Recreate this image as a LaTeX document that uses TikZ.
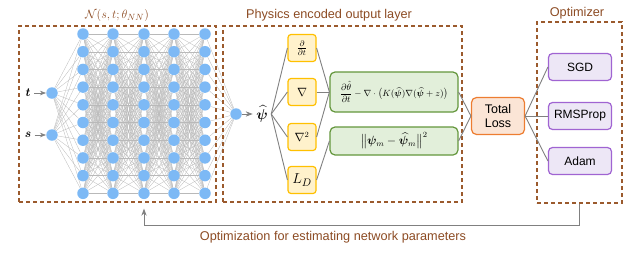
\documentclass[tikz,border=0pt]{standalone}
\usepackage{amsmath,amssymb,bm}
\usepackage[no-math]{fontspec}
\setmainfont{Liberation Sans}
\usetikzlibrary{positioning,arrows.meta,backgrounds}
\definecolor{framebrown}{RGB}{155,90,45}
\definecolor{titlebrown}{RGB}{140,75,35}
\definecolor{neuronblue}{RGB}{125,185,245}
\definecolor{opfill}{RGB}{255,242,204}
\definecolor{opdraw}{RGB}{255,192,0}
\definecolor{lossfill}{RGB}{226,239,218}
\definecolor{lossdraw}{RGB}{100,150,60}
\definecolor{totfill}{RGB}{251,229,214}
\definecolor{totdraw}{RGB}{237,125,49}
\definecolor{optfill}{RGB}{237,231,246}
\definecolor{optdraw}{RGB}{160,100,210}

\begin{document}
\begin{tikzpicture}[x=1pt,y=-1pt,>=Stealth,font=\fontsize{12}{14}\selectfont,
      neuron/.style={circle,fill=neuronblue,inner sep=0pt,minimum size=11.5pt},
      link/.style={draw=gray!55,line width=0.3pt},
      conn/.style={draw=gray,line width=0.9pt},
      frame/.style={draw=framebrown,dash pattern=on 4pt off 3pt,line width=1.3pt,inner sep=0pt},
      title/.style={text=titlebrown,font=\fontsize{12.7}{15}\selectfont},
      opbox/.style={rectangle,rounded corners=3pt,fill=opfill,draw=opdraw,line width=1.2pt,
        minimum width=28pt,minimum height=27pt,inner sep=1pt},
      lossbox/.style={rectangle,rounded corners=5pt,fill=lossfill,draw=lossdraw,line width=1.2pt,
        minimum width=128pt,inner sep=1pt},
      totbox/.style={rectangle,rounded corners=5pt,fill=totfill,draw=totdraw,line width=1.2pt,
        minimum width=53pt,minimum height=37pt,align=center,inner sep=1pt,
        font=\fontsize{12.5}{14}\selectfont},
      optbox/.style={rectangle,rounded corners=4pt,fill=optfill,draw=optdraw,line width=1.2pt,
        minimum width=63pt,minimum height=27pt,inner sep=1pt}]
      \useasboundingbox (0,0) rectangle (623,252);

      % dashed frames and their titles
      \node[frame,minimum width=197pt,minimum height=176pt] (netbox) at (117.5,114) {};
      \node[frame,minimum width=239pt,minimum height=176pt] (physbox) at (342.5,114) {};
      \node[frame,minimum width=85pt,minimum height=181pt] (optbox) at (579.5,112.5) {};
      \node[title] (nettitle) at (117,15) {$\mathcal{N}(s,t;\theta_{NN})$};
      \node[title] (phystitle) at (329,15) {Physics encoded output layer};
      \node[title] (opttitle) at (577,13) {Optimizer};

      % network
      \node[neuron] (in1) at (52,93) {};
      \node[neuron] (in2) at (52,135) {};
      \foreach \l/\x in {1/83,2/113,3/144,4/174,5/205}
        \foreach \i in {1,...,10}
          \node[neuron] (h\l-\i) at (\x,{34+(\i-1)*17.7}) {};
      \node[neuron] (out) at (236,114) {};

      \begin{scope}[on background layer]
        \foreach \i in {1,...,10} {
          \draw[link] (in1) -- (h1-\i);
          \draw[link] (in2) -- (h1-\i);
          \draw[link] (h5-\i) -- (out);
        }
        \foreach \l [evaluate=\l as \m using int(\l+1)] in {1,...,4}
          \foreach \i in {1,...,10}
            \foreach \j in {1,...,10}
              \draw[link] (h\l-\i) -- (h\m-\j);
      \end{scope}

      \node (tlab) at (28,93) {$\boldsymbol{t}$};
      \node (slab) at (28,135) {$\boldsymbol{s}$};
      \draw[->,conn,line width=0.7pt] (tlab) -- (in1);
      \draw[->,conn,line width=0.7pt] (slab) -- (in2);

      % physics layer
      \node[font=\fontsize{14}{16}\selectfont] (psi) at (262,114) {$\widehat{\boldsymbol{\psi}}$};
      \draw[->,conn] (out) -- (psi);
      \node[opbox] (dt) at (302,48) {$\frac{\partial}{\partial t}$};
      \node[opbox] (grad) at (302,92) {$\nabla$};
      \node[opbox] (lap) at (302,137) {$\nabla^2$};
      \node[opbox,font=\fontsize{15}{17}\selectfont] (ld) at (302,180) {$L_D$};
      \node[lossbox,minimum height=40pt,font=\fontsize{9.5}{11}\selectfont] (pde) at (394,92)
        {$\dfrac{\partial\hat{\theta}}{\partial t}-\nabla\cdot\big(K(\widehat{\boldsymbol{\psi}})\nabla(\widehat{\boldsymbol{\psi}}+z)\big)$};
      \node[lossbox,minimum height=28pt] (mse) at (394,141)
        {$\big\|\boldsymbol{\psi}_m-\widehat{\boldsymbol{\psi}}_m\big\|^2$};

      \path[conn]
        (psi.east) edge (dt.west)
        (psi.east) edge (grad.west)
        (psi.east) edge (lap.west)
        (psi.east) edge (ld.west)
        (dt.east) edge (pde.west)
        (grad.east) edge (pde.west)
        (lap.east) edge (pde.west)
        (ld.east) edge (mse.west);

      % loss and optimizers
      \node[totbox] (total) at (498,116) {Total\\Loss};
      \node[optbox] (sgd) at (580,67) {SGD};
      \node[optbox] (rms) at (580,116) {RMSProp};
      \node[optbox] (adam) at (580,161) {Adam};

      \path[conn]
        (pde.east) edge (total.west)
        (mse.east) edge (total.west)
        (total.east) edge (sgd.west)
        (total.east) edge (rms.west)
        (total.east) edge (adam.west);

      % feedback
      \draw[->,conn] (optbox.south) -- ++(0,22) -| ([yshift=-6pt]h3-10 |- netbox.south);
      \node[title] (feedlab) at (333,237) {Optimization for estimating network parameters};
    \end{tikzpicture}
\end{document}
